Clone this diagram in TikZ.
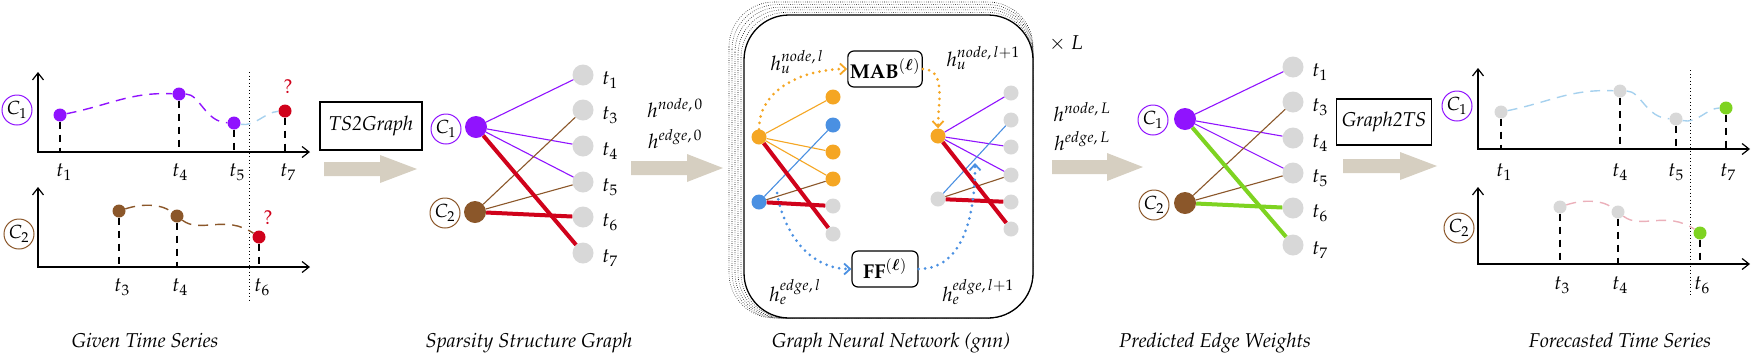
\documentclass[tikz,border=0pt]{standalone}
\usepackage[T1]{fontenc}
\usepackage{mathpazo}
\usepackage{bm}
\usetikzlibrary{arrows.meta}

\definecolor{cpurple}{HTML}{9013FE}
\definecolor{cbrown}{HTML}{8B572A}
\definecolor{cred}{HTML}{D0021B}
\definecolor{cgreen}{HTML}{7ED321}
\definecolor{corange}{HTML}{F5A623}
\definecolor{cblue}{HTML}{4A90E2}
\definecolor{cgray}{HTML}{D8D8D8}
\definecolor{clightblue}{HTML}{A6D1EE}
\definecolor{cpink}{HTML}{EBB0BA}
\definecolor{ctan}{HTML}{D6CFC1}

\tikzset{
  every node/.style={font=\fontsize{20}{24}\selectfont},
  tsdot/.style={circle,fill=#1,minimum size=13pt,inner sep=0pt},
  bigdot/.style={circle,fill=#1,minimum size=22pt,inner sep=0pt},
  tnode/.style={circle,fill=cgray,minimum size=21pt,inner sep=0pt},
  smalldot/.style={circle,fill=#1,minimum size=15pt,inner sep=0pt},
  cname/.style={circle,draw=#1,line width=1pt,minimum size=30pt,inner sep=0pt,font=\fontsize{19}{22}\selectfont},
  axes/.style={line width=1.2pt,{Straight Barb[length=7pt,width=11pt]}-{Straight Barb[length=7pt,width=11pt]}},
  drop/.style={line width=1.2pt,dash pattern=on 7pt off 6pt},
  trend/.style={#1,line width=1.4pt,dash pattern=on 10pt off 7pt},
  cutline/.style={line width=1pt,dash pattern=on 1pt off 2.5pt},
  thinlink/.style={#1,line width=1.1pt},
  boldlink/.style={#1,line width=4pt},
  opbox/.style={draw,line width=1.2pt,inner sep=2pt,font=\fontsize{20}{24}\selectfont\itshape},
  layerbox/.style={draw,fill=white,line width=1.2pt,rounded corners=6pt,inner sep=2pt,minimum width=66pt,minimum height=36pt},
  flow/.style={#1,line width=3pt,dash pattern=on 0pt off 6.5pt,line cap=round,-{Straight Barb[length=6pt,width=11pt,line width=1.8pt]}},
  copybox/.style={line width=0.6pt,dash pattern=on 0.6pt off 1.6pt,rounded corners=45pt},
  fat/.style={fill=ctan},
  caption/.style={anchor=base,font=\fontsize{20}{24}\selectfont\itshape}
}

\begin{document}
\begin{tikzpicture}[x=1pt,y=-1pt]
	\useasboundingbox (0,0) rectangle (1752,360);
	
	% given time series
	\coordinate (o1) at (38,152);
	\coordinate (o2) at (38,267);
	\draw[axes] (38,72) |- (310,152);
	\draw[axes] (38,187) |- (310,267);
	\draw[cutline] (249,72) -- (249,300);
	
	\node[cname=cpurple] (g1) at (17,110) {$C_1$};
	\node[cname=cbrown] (g2) at (19,234) {$C_2$};
	
	\node[tsdot=cpurple] (a1) at (60,115) {};
	\node[tsdot=cpurple] (a4) at (179,94) {};
	\node[tsdot=cpurple] (a5) at (234,123) {};
	\node[tsdot=cred] (a7) at (285,111) {};
	\node[text=cred] (q1) at (288,87) {?};
	
	\draw[trend=cpurple] (a1) .. controls (110,105) and (130,92) .. (a4);
	\draw[trend=cpurple] (a4) .. controls (200,94) and (205,122) .. (a5);
	\draw[trend=clightblue] (a5) .. controls (255,127) and (265,112) .. (a7);
	
	\draw[drop] (a1) -- (a1 |- o1);
	\draw[drop] (a4) -- (a4 |- o1);
	\draw[drop] (a5) -- (a5 |- o1);
	\draw[drop] (a7) -- (a7 |- o1);
	
	\node (la1) at (64,172) {$t_1$};
	\node (la4) at (180,172) {$t_4$};
	\node (la5) at (237,172) {$t_5$};
	\node (la7) at (288,172) {$t_7$};
	
	\node[tsdot=cbrown] (b3) at (119,211) {};
	\node[tsdot=cbrown] (b4) at (177,216) {};
	\node[tsdot=cred] (b6) at (259,237) {};
	\node[text=cred] (q2) at (268,218) {?};
	
	\draw[trend=cbrown] (b3) .. controls (140,204) and (160,203) .. (b4);
	\draw[trend=cbrown] (b4) .. controls (200,234) and (225,214) .. (b6);
	
	\draw[drop] (b3) -- (b3 |- o2);
	\draw[drop] (b4) -- (b4 |- o2);
	\draw[drop] (b6) -- (b6 |- o2);
	
	\node (lb3) at (122,287) {$t_3$};
	\node (lb4) at (180,287) {$t_4$};
	\node (lb6) at (262,287) {$t_6$};
	
	\node[caption] (cap1) at (145,347) {Given Time Series};
	
	% ts2graph
	\node[opbox,minimum width=102pt,minimum height=48pt] (ts2g) at (371,126) {TS2Graph};
	\fill[fat] (324,162) -- (380,162) -- (380,155) -- (417,169) -- (380,183) -- (380,176) -- (324,176) -- cycle;
	
	% sparsity structure graph
	\node[cname=cpurple] (s1c) at (446,129) {$C_1$};
	\node[cname=cbrown] (s2c) at (445,213) {$C_2$};
	\node[bigdot=cpurple] (s1) at (476,127) {};
	\node[bigdot=cbrown] (s2) at (475,212) {};
	
	\node[tnode] (st1) at (583,75) {};
	\node[tnode] (st3) at (583,110) {};
	\node[tnode] (st4) at (583,146) {};
	\node[tnode] (st5) at (583,182) {};
	\node[tnode] (st6) at (583,217) {};
	\node[tnode] (st7) at (583,253) {};
	\node (lst1) at (610,80) {$t_1$};
	\node (lst3) at (610,115) {$t_3$};
	\node (lst4) at (610,151) {$t_4$};
	\node (lst5) at (610,187) {$t_5$};
	\node (lst6) at (610,222) {$t_6$};
	\node (lst7) at (610,258) {$t_7$};
	
	\draw[thinlink=cpurple] (s1) -- (st1);
	\draw[thinlink=cpurple] (s1) -- (st4);
	\draw[thinlink=cpurple] (s1) -- (st5);
	\draw[thinlink=cbrown] (s2) -- (st3);
	\draw[thinlink=cbrown] (s2) -- (st5);
	\draw[boldlink=cred] (s1) -- (st7);
	\draw[boldlink=cred] (s2) -- (st6);
	
	\node[caption] (cap2) at (529,347) {Sparsity Structure Graph};
	
	\node[anchor=base] (h0) at (675,117) {$h^{node,\,0}$};
	\node[anchor=base] (e0) at (675,148) {$h^{edge,\,0}$};
	\fill[fat] (631,161) -- (687,161) -- (687,154) -- (723,168) -- (687,182) -- (687,175) -- (631,175) -- cycle;
	
	% graph neural network
	\foreach \k in {1,...,5}
		\draw[copybox] ({744-3*\k},{15-2.6*\k}) rectangle (1033,318);
	\draw[fill=white,line width=1.3pt,rounded corners=45pt] (744,15) rectangle (1033,318);
	\node (rep) at (1066,43) {$\times\ L$};
	
	\node[smalldot=corange] (u) at (759,137) {};
	\node[smalldot=cblue] (v) at (759,202) {};
	\node[smalldot=corange] (m1) at (833,97) {};
	\node[smalldot=cblue] (m2) at (833,125) {};
	\node[smalldot=corange] (m3) at (833,152) {};
	\node[smalldot=corange] (m4) at (833,179) {};
	\node[smalldot=cgray] (m5) at (833,206) {};
	\node[smalldot=cgray] (m6) at (833,234) {};
	
	\draw[thinlink=corange] (u) -- (m1);
	\draw[thinlink=corange] (u) -- (m3);
	\draw[thinlink=corange] (u) -- (m4);
	\draw[thinlink=cblue] (v) -- (m2);
	\draw[thinlink=cbrown] (v) -- (m4);
	\draw[boldlink=cred] (u) -- (m6);
	\draw[boldlink=cred] (v) -- (m5);
	
	\node[smalldot=corange] (u2) at (938,136) {};
	\node[smalldot=cgray] (v2) at (938,199) {};
	\node[smalldot=cgray] (r1) at (1011,93) {};
	\node[smalldot=cgray] (r2) at (1011,120) {};
	\node[smalldot=cgray] (r3) at (1011,147) {};
	\node[smalldot=cgray] (r4) at (1011,175) {};
	\node[smalldot=cgray] (r5) at (1011,202) {};
	\node[smalldot=cgray] (r6) at (1011,229) {};
	
	\draw[thinlink=cpurple] (u2) -- (r1);
	\draw[thinlink=cpurple] (u2) -- (r3);
	\draw[thinlink=cpurple] (u2) -- (r4);
	\draw[thinlink=cblue] (v2) -- (r2);
	\draw[thinlink=cbrown] (v2) -- (r4);
	\draw[boldlink=cred] (u2) -- (r6);
	\draw[boldlink=cred] (v2) -- (r5);
	
	\node[layerbox] (mab) at (885,69) {$\mathbf{MAB}^{(\bm{\ell})}$};
	\node[layerbox] (ff) at (885,269) {$\mathbf{FF}^{(\bm{\ell})}$};
	
	\coordinate (e1) at (777,193);
	\coordinate (e2) at (975,163);
	\draw[flow=corange] (u) to[out=90,in=180] (mab);
	\draw[flow=corange] (mab) to[out=0,in=90] (u2);
	\draw[flow=cblue] (e1) to[out=-80,in=180] (ff);
	\draw[flow=cblue] (ff) to[out=0,in=-90] (e2);
	
	\node (hu) at (797,62) {$h_u^{node,\,l}$};
	\node (hu2) at (983,58) {$h_u^{node,\,l+1}$};
	\node (he) at (795,292) {$h_e^{edge,\,l}$};
	\node (he2) at (978,292) {$h_e^{edge,\,l+1}$};
	
	\node[caption] (cap3) at (891,347) {Graph Neural Network (gnn)};
	
	\node[anchor=base] (hL) at (1082,121) {$h^{node,\,L}$};
	\node[anchor=base] (eL) at (1082,150) {$h^{edge,\,L}$};
	\fill[fat] (1052,160) -- (1107,160) -- (1107,153) -- (1143,167) -- (1107,181) -- (1107,174) -- (1052,174) -- cycle;
	
	% predicted edge weights
	\node[cname=cpurple] (w1c) at (1153,120) {$C_1$};
	\node[cname=cbrown] (w2c) at (1154,205) {$C_2$};
	\node[bigdot=cpurple] (w1) at (1185,119) {};
	\node[bigdot=cbrown] (w2) at (1185,203) {};
	
	\node[tnode] (wt1) at (1293,67) {};
	\node[tnode] (wt3) at (1293,102) {};
	\node[tnode] (wt4) at (1293,138) {};
	\node[tnode] (wt5) at (1293,173) {};
	\node[tnode] (wt6) at (1293,208) {};
	\node[tnode] (wt7) at (1293,245) {};
	\node (lwt1) at (1320,72) {$t_1$};
	\node (lwt3) at (1320,107) {$t_3$};
	\node (lwt4) at (1320,143) {$t_4$};
	\node (lwt5) at (1320,178) {$t_5$};
	\node (lwt6) at (1320,213) {$t_6$};
	\node (lwt7) at (1320,250) {$t_7$};
	
	\draw[thinlink=cpurple] (w1) -- (wt1);
	\draw[thinlink=cpurple] (w1) -- (wt4);
	\draw[thinlink=cpurple] (w1) -- (wt5);
	\draw[thinlink=cbrown] (w2) -- (wt3);
	\draw[thinlink=cbrown] (w2) -- (wt5);
	\draw[boldlink=cgreen] (w1) -- (wt7);
	\draw[boldlink=cgreen] (w2) -- (wt6);
	
	\node[caption] (cap4) at (1215,347) {Predicted Edge Weights};
	
	% graph2ts
	\node[opbox,minimum width=95pt,minimum height=46pt] (g2ts) at (1384,122) {Graph2TS};
	\fill[fat] (1343,159) -- (1400,159) -- (1400,152) -- (1437,166) -- (1400,180) -- (1400,173) -- (1343,173) -- cycle;
	
	% forecasted time series
	\coordinate (o3) at (1478,149);
	\coordinate (o4) at (1478,264);
	\draw[axes] (1478,68) |- (1750,149);
	\draw[axes] (1478,187) |- (1750,264);
	\draw[cutline] (1690,70) -- (1690,297);
	
	\node[cname=cpurple] (f1c) at (1457,106) {$C_1$};
	\node[cname=cbrown] (f2c) at (1459,228) {$C_2$};
	
	\node[tsdot=cgray] (f1) at (1501,112) {};
	\node[tsdot=cgray] (f4) at (1620,91) {};
	\node[tsdot=cgray] (f5) at (1676,119) {};
	\node[tsdot=cgreen] (f7) at (1726,108) {};
	
	\draw[trend=clightblue] (f1) .. controls (1550,102) and (1570,89) .. (f4);
	\draw[trend=clightblue] (f4) .. controls (1641,91) and (1646,118) .. (f5);
	\draw[trend=clightblue] (f5) .. controls (1697,124) and (1707,108) .. (f7);
	
	\draw[drop] (f1) -- (f1 |- o3);
	\draw[drop] (f4) -- (f4 |- o3);
	\draw[drop] (f5) -- (f5 |- o3);
	\draw[drop] (f7) -- (f7 |- o3);
	
	\node (lf1) at (1504,172) {$t_1$};
	\node (lf4) at (1620,172) {$t_4$};
	\node (lf5) at (1676,172) {$t_5$};
	\node (lf7) at (1728,172) {$t_7$};
	
	\node[tsdot=cgray] (h3) at (1560,207) {};
	\node[tsdot=cgray] (h4) at (1618,212) {};
	\node[tsdot=cgreen] (h6) at (1700,233) {};
	
	\draw[trend=cpink] (h3) .. controls (1581,200) and (1601,199) .. (h4);
	\draw[trend=cpink] (h4) .. controls (1641,230) and (1666,210) .. (h6);
	
	\draw[drop] (h3) -- (h3 |- o4);
	\draw[drop] (h4) -- (h4 |- o4);
	\draw[drop] (h6) -- (h6 |- o4);
	
	\node (lh3) at (1562,285) {$t_3$};
	\node (lh4) at (1620,285) {$t_4$};
	\node (lh6) at (1702,285) {$t_6$};
	
	\node[caption] (cap5) at (1620,347) {Forecasted Time Series};
\end{tikzpicture}
\end{document}
